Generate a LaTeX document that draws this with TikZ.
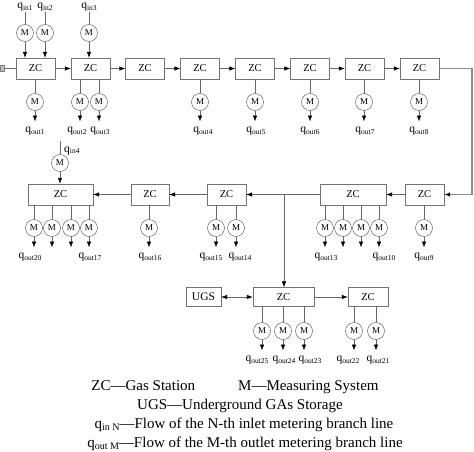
\documentclass[tikz,border=0pt]{standalone}
\usepackage{fontspec}
\setmainfont{Liberation Serif}
\usetikzlibrary{arrows.meta}
\newcommand{\qflow}[1]{q\raisebox{-0.3ex}{\fontsize{7.5}{8}\selectfont#1}}
\newcommand{\qlegend}[1]{q\raisebox{-0.3ex}{\fontsize{10}{11}\selectfont#1}}

\begin{document}
\begin{tikzpicture}[x=1pt,y=-1pt,
    zc/.style={draw=black!55,minimum height=21pt,inner sep=0pt,font=\fontsize{10.5}{12}\selectfont},
    meter/.style={circle,draw=black!70,minimum size=17pt,inner sep=0pt,font=\fontsize{9}{10}\selectfont},
    flow/.style={inner sep=0pt,text height=11pt,text depth=3pt,font=\fontsize{11.5}{12}\selectfont},
    pipe/.style={draw=black!60,line width=0.6pt},
    arr/.style={pipe,-{Latex[length=6pt,width=4.5pt,color=black]}},
    dblarr/.style={pipe,{Latex[length=6pt,width=4.5pt,color=black]}-{Latex[length=6pt,width=4.5pt,color=black]}},
    loopback/.style={draw=black!45,line width=1.9pt,-{Latex[length=6pt,width=4.5pt,color=black]}},
    legend/.style={anchor=base,inner sep=0pt,font=\fontsize{15}{19}\selectfont}]
\path[use as bounding box] (0,0) rectangle (474,452);

% first row of stations
\foreach \n/\x in {1/35.5,2/90.5,3/145,4/200,5/255,6/310,7/364.5,8/419.5}
  \node[zc,minimum width=39pt] (t\n) at (\x,68.5) {ZC};
\foreach \ia/\ib in {1/2,2/3,3/4,4/5,5/6,6/7,7/8}
  \draw[arr] (t\ia) -- (t\ib);
\node[draw=black!50,fill=black!25,minimum width=4pt,minimum height=6pt,inner sep=0pt] (src) at (2,68.5) {};
\draw[pipe] (src) -- (t1);

% second row (right to left)
\node[zc,minimum width=39pt] (m9) at (424.5,194.5) {ZC};
\node[zc,minimum width=66pt] (m10) at (353,194.5) {ZC};
\node[zc,minimum width=39pt] (m11) at (226.5,194.5) {ZC};
\node[zc,minimum width=38pt] (m12) at (150,194.5) {ZC};
\node[zc,minimum width=65pt] (m13) at (60.5,194.5) {ZC};
\draw[arr] (m9) -- (m10);
\draw[arr] (m10) -- (m11);
\draw[arr] (m11) -- (m12);
\draw[arr] (m12) -- (m13);
\coordinate (turn) at (472,68.5);
\draw[loopback] (t8) -- (turn) |- (m9);

% third row with storage
\node[zc,minimum width=35pt,minimum height=19pt,font=\fontsize{11.5}{13}\selectfont] (ugs) at (203.5,297) {UGS};
\node[zc,minimum width=61pt,minimum height=19pt] (b2) at (283.5,297) {ZC};
\node[zc,minimum width=40pt,minimum height=19pt] (b3) at (368,297) {ZC};
\draw[dblarr] (ugs) -- (b2);
\draw[arr] (b2) -- (b3);
\coordinate (jn) at (284,194.5);
\draw[arr] (jn) -- (jn |- b2.north);

% inlet metering branches
\foreach \k/\x/\st in {1/25/t1,2/45/t1,3/89/t2} {
  \node[flow,anchor=base] (qi\k) at (\x,8.5) {\qflow{in\k}};
  \node[meter] (mi\k) at (\x,33) {M};
  \draw[pipe] (qi\k) -- (mi\k);
  \draw[arr] (mi\k) -- (mi\k |- \st.north);
}
\coordinate (src4) at (60,141);
\node[meter] (mi4) at (60,163) {M};
\node[flow,anchor=base west] (qi4) at (64,152) {\qflow{in4}};
\draw[pipe] (src4) -- (mi4);
\draw[arr] (mi4) -- (mi4 |- m13.north);

% outlet metering branches
\foreach \k/\x/\y/\st in {1/35/102/t1,2/80/102/t2,3/99/102/t2,4/200/102/t4,5/255/102/t5,
    6/310/102/t6,7/364/102/t7,8/419/102/t8,9/424/228/m9,10/379/228/m10,11/361/228/m10,
    12/343/228/m10,13/325/228/m10,14/236/228/m11,15/216/228/m11,16/149/228/m12,
    17/89/228/m13,18/71/228/m13,19/52/228/m13,20/34/228/m13,
    21/376/331/b3,22/354/331/b3,23/304/331/b2,24/283/331/b2,25/262/331/b2} {
  \node[meter] (mo\k) at (\x,\y) {M};
  \coordinate (e\k) at (\x,\y+19.5);
  \draw[pipe] (\st.south -| mo\k) -- (mo\k);
  \draw[arr] (mo\k) -- (e\k);
}
\foreach \k/\dx in {1/0,2/-3,3/1,4/3,5/1,6/0,7/1,8/0,9/0,10/5,13/1,14/4,15/-5,
    16/1,17/1,20/-4,21/2,22/-6,23/6,24/1,25/-5}
  \node[flow,anchor=north,xshift=\dx pt] (qo\k) at (e\k) {\qflow{out\k}};

% legend
\node[legend] (l1) at (235,390) {ZC—Gas Station\hspace{43pt}M—Measuring System};
\node[legend] (l2) at (240,409) {UGS—Underground GAs Storage};
\node[legend] (l3) at (244,428) {\qlegend{in N}—Flow of the N-th inlet metering branch line};
\node[legend] (l4) at (245,447) {\qlegend{out M}—Flow of the M-th outlet metering branch line};
\end{tikzpicture}
\end{document}
